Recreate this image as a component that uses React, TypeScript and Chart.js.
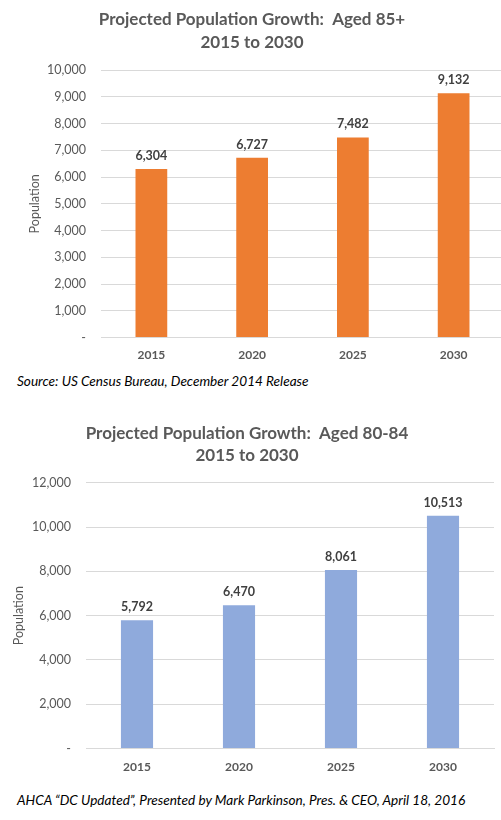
import { useEffect, useRef } from 'react';
import { Chart, registerables } from 'chart.js';
import type { Plugin } from 'chart.js';

Chart.register(...registerables);

const years = ['2015', '2020', '2025', '2030'];
const aged85Plus = [6304, 6727, 7482, 9132];
const aged80to84 = [5792, 6470, 8061, 10513];
const ticks85Plus = [0, 1000, 2000, 3000, 4000, 5000, 6000, 7000, 8000, 9000, 10000];
const ticks80to84 = [0, 2000, 4000, 6000, 8000, 10000, 12000];

const FONT = 'Lato, Carlito, Calibri, sans-serif';
const GREY = '#595959';

const fmt = (v: number) => (v === 0 ? '-' : v.toLocaleString('en-US'));

// draws the value above each bar
const valueLabels: Plugin<'bar'> = {
  id: 'valueLabels',
  afterDatasetsDraw(chart) {
    const { ctx } = chart;
    ctx.save();
    ctx.font = `bold 12.5px ${FONT}`;
    ctx.fillStyle = '#404040';
    ctx.textAlign = 'center';
    ctx.textBaseline = 'middle';
    chart.getDatasetMeta(0).data.forEach((bar, i) => {
      const v = chart.data.datasets[0].data[i] as number;
      ctx.fillText(fmt(v), bar.x, bar.y - 13);
    });
    ctx.restore();
  },
};

interface PanelProps {
  top: number;
  width: number;
  height: number;
  title: string[];
  values: number[];
  ticks: number[];
  color: string;
  axisWidth: number;
  axisTitleOffset: number;
  titleTop: number;
  titleBottom: number;
  titleLineHeight: number;
  padRight: number;
  padBottom: number;
  xPad: number;
}

function BarPanel(p: PanelProps) {
  const canvasRef = useRef<HTMLCanvasElement>(null);

  useEffect(() => {
    if (!canvasRef.current) return;
    const chart = new Chart(canvasRef.current, {
      type: 'bar',
      data: {
        labels: years,
        datasets: [
          {
            data: p.values,
            backgroundColor: p.color,
            barPercentage: 0.315,
            categoryPercentage: 1,
          },
        ],
      },
      options: {
        responsive: true,
        maintainAspectRatio: false,
        animation: false,
        layout: { padding: { left: 0, right: p.padRight, top: 0, bottom: p.padBottom } },
        plugins: {
          legend: { display: false },
          tooltip: { enabled: false },
          title: {
            display: true,
            text: p.title,
            color: GREY,
            font: { family: FONT, size: 17, weight: 'bold', lineHeight: p.titleLineHeight },
            padding: { top: p.titleTop, bottom: p.titleBottom },
          },
        },
        scales: {
          x: {
            grid: { display: false, drawTicks: false },
            border: { display: true, color: '#D9D9D9', width: 1 },
            ticks: { color: GREY, font: { family: FONT, size: 12, weight: 'bold' }, padding: p.xPad },
          },
          y: {
            min: p.ticks[0],
            max: p.ticks[p.ticks.length - 1],
            afterBuildTicks: (scale) => {
              scale.ticks = p.ticks.map((value) => ({ value }));
            },
            afterFit: (scale) => {
              scale.width = p.axisWidth;
            },
            grid: { color: '#D9D9D9', lineWidth: 1, drawTicks: false },
            border: { display: false },
            ticks: {
              color: GREY,
              font: { family: FONT, size: 12.5 },
              padding: 15,
              callback: (v) => fmt(Number(v)),
            },
            title: {
              display: true,
              text: 'Population',
              color: GREY,
              font: { family: FONT, size: 12.5 },
              padding: { top: p.axisTitleOffset, bottom: 0 },
            },
          },
        },
      },
      plugins: [valueLabels],
    });
    return () => chart.destroy();
  }, [p]);

  return (
    <div style={{ position: 'absolute', left: 0, top: p.top, width: 501, height: p.height, overflow: 'hidden' }}>
      <div style={{ position: 'relative', width: p.width, height: p.height }}>
        <canvas ref={canvasRef} />
      </div>
    </div>
  );
}

const note: React.CSSProperties = {
  position: 'absolute',
  left: 17,
  fontFamily: FONT,
  fontStyle: 'italic',
  fontSize: 13.6,
  lineHeight: '16px',
  color: '#000',
  whiteSpace: 'nowrap',
};

const panel85 = {
  top: 0,
  width: 528,
  height: 372,
  title: ['Projected Population Growth:  Aged 85+', '2015 to 2030'],
  values: aged85Plus,
  ticks: ticks85Plus,
  color: '#ED7D31',
  axisWidth: 101,
  axisTitleOffset: 27.5,
  titleTop: 8,
  titleBottom: 15.5,
  titleLineHeight: 1.37,
  padRight: 24,
  padBottom: 0,
  xPad: 10,
};

const panel80 = {
  top: 400,
  width: 501,
  height: 385,
  title: ['Projected Population Growth:  Aged 80-84', '2015 to 2030'],
  values: aged80to84,
  ticks: ticks80to84,
  color: '#8FAADC',
  axisWidth: 86,
  axisTitleOffset: 11.8,
  titleTop: 22,
  titleBottom: 15.9,
  titleLineHeight: 1.32,
  padRight: 7,
  padBottom: 0,
  xPad: 11,
};

export default function App() {
  return (
    <div style={{ position: 'absolute', left: 0, top: 0, width: 501, height: 820, background: '#fff' }}>
      <BarPanel {...panel85} />
      <div style={{ ...note, top: 373 }}>Source: US Census Bureau, December 2014 Release</div>
      <BarPanel {...panel80} />
      <div style={{ ...note, top: 792 }}>AHCA “DC Updated”, Presented by Mark Parkinson, Pres. &amp; CEO, April 18, 2016</div>
    </div>
  );
}
